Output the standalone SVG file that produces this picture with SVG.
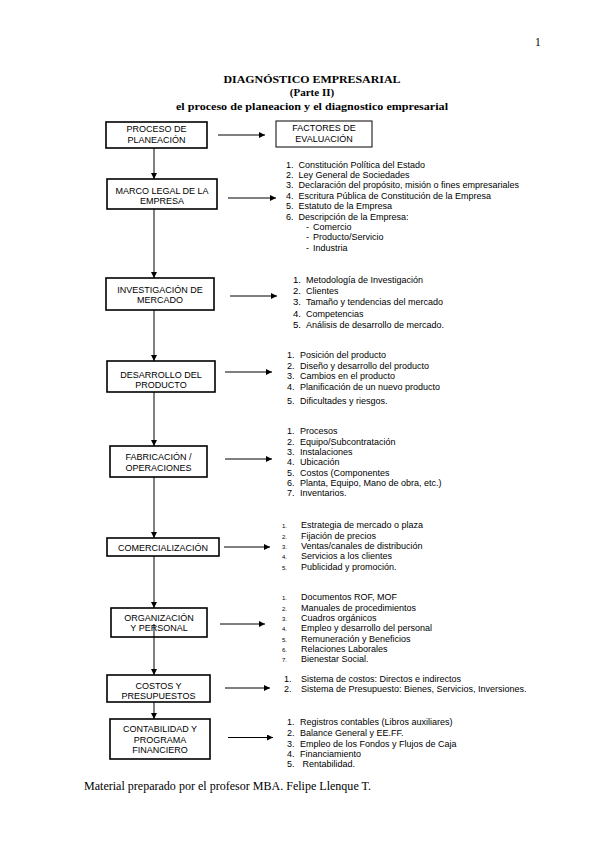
<svg xmlns="http://www.w3.org/2000/svg" width="595" height="842" viewBox="0 0 595 842">
<defs>
<marker id="ah" markerUnits="userSpaceOnUse" markerWidth="7" markerHeight="7" refX="6" refY="3" orient="auto">
<path d="M0,0 L6,3 L0,6 z" fill="#000"/>
</marker>
<style>
.bx{fill:#fff;stroke:#000;stroke-width:1.6}
.bx2{fill:#fff;stroke:#000;stroke-width:1}
.bt{font-family:"Liberation Sans",Arial,sans-serif;font-size:9px;fill:#000;text-anchor:middle}
.li{font-family:"Liberation Sans",Arial,sans-serif;font-size:9px;fill:#000}
.lb{font-family:"Liberation Sans",Arial,sans-serif;font-size:9px;fill:#000}
.nb{font-size:9.6px}
.sn{font-family:"Liberation Sans",Arial,sans-serif;font-size:6px;fill:#000}
.tt{font-family:"Liberation Serif","Times New Roman",serif;font-weight:bold;font-size:11px;fill:#000;text-anchor:middle}
.ft{font-family:"Liberation Serif","Times New Roman",serif;font-size:11.5px;fill:#000}
.cn line{stroke:#000;stroke-width:1;marker-end:url(#ah)}
</style>
</defs>
<rect width="595" height="842" fill="#fff"/>
<text class="ft" x="535" y="46">1</text>
<text class="tt" x="312" y="83" textLength="177" lengthAdjust="spacingAndGlyphs">DIAGNÓSTICO EMPRESARIAL</text>
<text class="tt" x="312" y="96">(Parte II)</text>
<text class="tt" x="312" y="110" textLength="272" lengthAdjust="spacingAndGlyphs">el proceso de planeacion y el diagnostico empresarial</text>

<g id="connectors" class="cn">
<line x1="154" y1="148" x2="154" y2="179"/>
<line x1="154" y1="209" x2="154" y2="278"/>
<line x1="154" y1="310" x2="154" y2="361"/>
<line x1="154" y1="392" x2="154" y2="446"/>
<line x1="154" y1="477" x2="154" y2="538"/>
<line x1="154" y1="556" x2="154" y2="608"/>
<line x1="154" y1="624" x2="154" y2="675"/>
<line x1="154" y1="702" x2="154" y2="719"/>
<line x1="218" y1="135" x2="265" y2="135"/>
<line x1="228" y1="198" x2="276" y2="198"/>
<line x1="230" y1="296" x2="277" y2="296"/>
<line x1="225" y1="372" x2="272" y2="372"/>
<line x1="225" y1="459" x2="272" y2="459"/>
<line x1="224" y1="547" x2="270" y2="547"/>
<line x1="220" y1="624" x2="265" y2="624"/>
<line x1="225" y1="688" x2="270" y2="688"/>
<line x1="228" y1="737.5" x2="273" y2="737.5"/>
</g>

<g id="n-proceso">
<rect class="bx" x="106" y="122" width="101" height="26"/>
<text class="bt" x="156.5" y="131.8">PROCESO DE</text>
<text class="bt" x="156.5" y="142.5">PLANEACIÓN</text>
</g>
<g id="n-factores">
<rect class="bx2" x="276" y="121" width="96" height="26"/>
<text class="bt" x="324" y="131">FACTORES DE</text>
<text class="bt" x="324" y="141.5">EVALUACIÓN</text>
</g>
<g id="n-marco">
<rect class="bx" x="107" y="179" width="110" height="30"/>
<text class="bt" x="162" y="193.5">MARCO LEGAL DE LA</text>
<text class="bt" x="162" y="203.5">EMPRESA</text>
</g>
<g id="n-investigacion">
<rect class="bx" x="106" y="278" width="108" height="32"/>
<text class="bt" x="160" y="292.5">INVESTIGACIÓN DE</text>
<text class="bt" x="160" y="303">MERCADO</text>
</g>
<g id="n-desarrollo">
<rect class="bx" x="107" y="361" width="108" height="31"/>
<text class="bt" x="161" y="377.5">DESARROLLO DEL</text>
<text class="bt" x="161" y="388">PRODUCTO</text>
</g>
<g id="n-fabricacion">
<rect class="bx" x="110" y="446" width="97" height="31"/>
<text class="bt" x="158.5" y="460">FABRICACIÓN /</text>
<text class="bt" x="158.5" y="470.5">OPERACIONES</text>
</g>
<g id="n-comercializacion">
<rect class="bx" x="107" y="538" width="112" height="18"/>
<text class="bt" x="163" y="550.5">COMERCIALIZACIÓN</text>
</g>
<g id="n-organizacion">
<rect class="bx" x="111" y="608" width="96" height="29"/>
<text class="bt" x="159" y="620.5">ORGANIZACIÓN</text>
<text class="bt" x="159" y="630.5">Y PERSONAL</text>
</g>
<line x1="154" y1="624" x2="154" y2="637" stroke="#000" stroke-width="1"/>
<g id="n-costos">
<rect class="bx" x="107" y="675" width="103" height="27"/>
<text class="bt" x="158.5" y="688.5">COSTOS Y</text>
<text class="bt" x="158.5" y="699.3">PRESUPUESTOS</text>
</g>
<g id="n-contabilidad">
<rect class="bx" x="110" y="719" width="100" height="40"/>
<text class="bt" x="160" y="731.8">CONTABILIDAD Y</text>
<text class="bt" x="160" y="742.5">PROGRAMA</text>
<text class="bt" x="160" y="753.2">FINANCIERO</text>
</g>

<g id="l-marco" class="li">
<text x="286" y="167.5">1.</text><text x="298.5" y="167.5">Constitución Política del Estado</text>
<text x="286" y="177.9">2.</text><text x="298.5" y="177.9">Ley General de Sociedades</text>
<text x="286" y="188.3">3.</text><text x="298.5" y="188.3">Declaración del propósito, misión o fines empresariales</text>
<text x="286" y="198.7">4.</text><text x="298.5" y="198.7">Escritura Pública de Constitución de la Empresa</text>
<text x="286" y="209.1">5.</text><text x="298.5" y="209.1">Estatuto de la Empresa</text>
<text x="286" y="219.5">6.</text><text x="298.5" y="219.5">Descripción de la Empresa:</text>
<text x="306" y="229.9">-</text><text x="313" y="229.9">Comercio</text>
<text x="306" y="240.3">-</text><text x="313" y="240.3">Producto/Servicio</text>
<text x="306" y="250.7">-</text><text x="313" y="250.7">Industria</text>
</g>
<g id="l-investigacion" class="lb">
<text class="nb" x="293" y="283">1.</text><text x="306" y="283">Metodología de Investigación</text>
<text class="nb" x="293" y="294">2.</text><text x="306" y="294">Clientes</text>
<text class="nb" x="293" y="304.5">3.</text><text x="306" y="304.5">Tamaño y tendencias del mercado</text>
<text class="nb" x="293" y="316.5">4.</text><text x="306" y="316.5">Competencias</text>
<text class="nb" x="293" y="327.5">5.</text><text x="306" y="327.5">Análisis de desarrollo de mercado.</text>
</g>
<g id="l-desarrollo" class="li">
<text x="287" y="358">1.</text><text x="300" y="358">Posición del producto</text>
<text x="287" y="369">2.</text><text x="300" y="369">Diseño y desarrollo del producto</text>
<text x="287" y="379">3.</text><text x="300" y="379">Cambios en el producto</text>
<text x="287" y="389.5">4.</text><text x="300" y="389.5">Planificación de un nuevo producto</text>
<text x="287" y="403.5">5.</text><text x="300" y="403.5">Dificultades y riesgos.</text>
</g>
<g id="l-fabricacion" class="li">
<text x="287" y="434">1.</text><text x="300" y="434">Procesos</text>
<text x="287" y="444.5">2.</text><text x="300" y="444.5">Equipo/Subcontratación</text>
<text x="287" y="455">3.</text><text x="300" y="455">Instalaciones</text>
<text x="287" y="465">4.</text><text x="300" y="465">Ubicación</text>
<text x="287" y="475.5">5.</text><text x="300" y="475.5">Costos (Componentes</text>
<text x="287" y="486">6.</text><text x="300" y="486">Planta, Equipo, Mano de obra, etc.)</text>
<text x="287" y="496">7.</text><text x="300" y="496">Inventarios.</text>
</g>
<g id="l-comercializacion" class="li">
<text class="sn" x="282" y="528">1.</text><text x="301" y="528">Estrategia de mercado o plaza</text>
<text class="sn" x="282" y="538.5">2.</text><text x="301" y="538.5">Fijación de precios</text>
<text class="sn" x="282" y="549">3.</text><text x="301" y="549">Ventas/canales de distribución</text>
<text class="sn" x="282" y="559">4.</text><text x="301" y="559">Servicios a los clientes</text>
<text class="sn" x="282" y="569.5">5.</text><text x="301" y="569.5">Publicidad y promoción.</text>
</g>
<g id="l-organizacion" class="li">
<text class="sn" x="282" y="600">1.</text><text x="301" y="600">Documentos ROF, MOF</text>
<text class="sn" x="282" y="610.5">2.</text><text x="301" y="610.5">Manuales de procedimientos</text>
<text class="sn" x="282" y="620.5">3.</text><text x="301" y="620.5">Cuadros orgánicos</text>
<text class="sn" x="282" y="631">4.</text><text x="301" y="631">Empleo y desarrollo del personal</text>
<text class="sn" x="282" y="641.5">5.</text><text x="301" y="641.5">Remuneración y Beneficios</text>
<text class="sn" x="282" y="652">6.</text><text x="301" y="652">Relaciones Laborales</text>
<text class="sn" x="282" y="662">7.</text><text x="301" y="662">Bienestar Social.</text>
</g>
<g id="l-costos" class="li">
<text x="284" y="682">1.</text><text x="301" y="682">Sistema de costos: Directos e indirectos</text>
<text x="284" y="692">2.</text><text x="301" y="692">Sistema de Presupuesto: Bienes, Servicios, Inversiones.</text>
</g>
<g id="l-contabilidad" class="li">
<text x="287" y="725">1.</text><text x="300" y="725">Registros contables (Libros auxiliares)</text>
<text x="287" y="736">2.</text><text x="300" y="736">Balance General y EE.FF.</text>
<text x="287" y="746.5">3.</text><text x="300" y="746.5">Empleo de los Fondos y Flujos de Caja</text>
<text x="287" y="757">4.</text><text x="300" y="757">Financiamiento</text>
<text x="287" y="767">5.</text><text x="302.5" y="767">Rentabilidad.</text>
</g>
<text class="ft" x="84" y="790" textLength="287" lengthAdjust="spacingAndGlyphs">Material preparado por el profesor MBA. Felipe Llenque T.</text>
</svg>
